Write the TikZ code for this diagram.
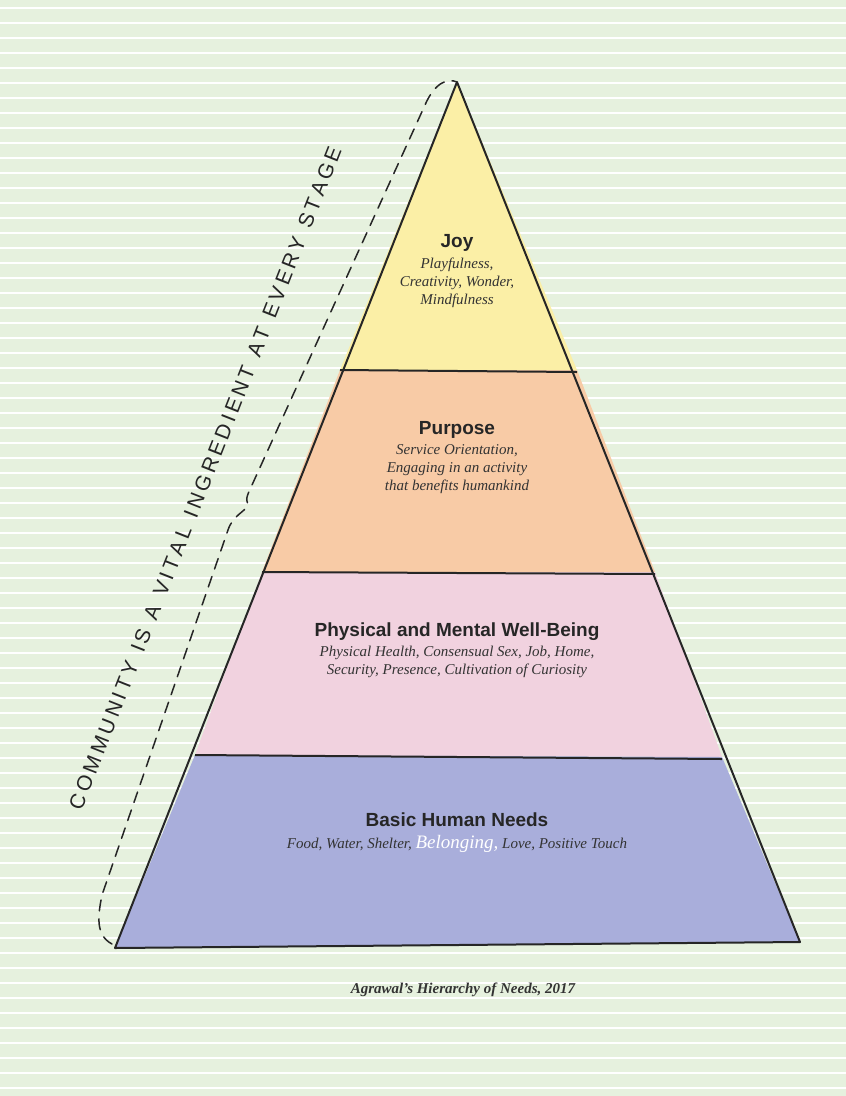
\documentclass[tikz,border=0pt]{standalone}
\usepackage{fontspec}
\setmainfont{Liberation Serif}
\setsansfont{Liberation Sans}
\begin{document}
\begin{tikzpicture}[x=1pt,y=-1pt,
  ttl/.style={font=\sffamily\bfseries\fontsize{19}{22}\selectfont, text=black!85},
  sub/.style={font=\itshape\fontsize{15}{18}\selectfont, align=center, text=black!80},
  edge/.style={draw=black!85, line width=2pt, line join=round}]
\definecolor{bg}{HTML}{E6F1DE}
\definecolor{cjoy}{HTML}{FBEFA6}
\definecolor{cpur}{HTML}{F8CBA6}
\definecolor{cwel}{HTML}{F1D2DF}
\definecolor{cbas}{HTML}{A9AEDB}
\useasboundingbox (0,0) rectangle (846,1096);
\fill[bg] (0,0) rectangle (846,1096);
\foreach \y in {8,23,...,1096} \draw[white, line width=2pt] (0,\y) -- (846,\y);
% layers
\coordinate (A) at (457,82);
\coordinate (BL) at (115,948);
\coordinate (BR) at (800,942);
\fill[cjoy] (A) -- (577,370) -- (340,370) -- cycle;
\fill[cpur] (340,370) -- (577,370) -- (655,572) -- (262,572) -- cycle;
\fill[cwel] (262,572) -- (655,572) -- (722,757) -- (195,755) -- cycle;
\fill[cbas] (195,755) -- (722,757) -- (BR) -- (BL) -- cycle;
\draw[edge] (A) -- (BR) -- (BL) -- cycle;
\draw[edge] (340,370) -- (577,372);
\draw[edge] (262,572) -- (655,574);
\draw[edge] (195,755) -- (722,759);
% texts
\node[ttl] (tj) at (457,243) {Joy};
\node[sub, anchor=north] (sj) at (457,254) {Playfulness,\\Creativity, Wonder,\\Mindfulness};
\node[ttl] (tp) at (457,430) {Purpose};
\node[sub, anchor=north] (sp) at (457,441) {Service Orientation,\\Engaging in an activity\\that benefits humankind};
\node[ttl] (tw) at (457,632) {Physical and Mental Well-Being};
\node[sub, anchor=north] (sw) at (457,643) {Physical Health, Consensual Sex, Job, Home,\\Security, Presence, Cultivation of Curiosity};
\node[ttl] (tb) at (457,820) {Basic Human Needs};
\node[sub, anchor=north] (sb) at (457,832) {Food, Water, Shelter, {\color{white}\fontsize{19}{19}\selectfont Belonging,} Love, Positive Touch};
\node[font=\bfseries\itshape\fontsize{15}{18}\selectfont, text=black!80] (cap) at (463,990) {Agrawal's Hierarchy of Needs, 2017};
% brace
\draw[black!85, line width=1.5pt, dash pattern=on 11pt off 8pt, line cap=round]
  (112,944) .. controls (95,935) and (98,915) .. (102,895)
  -- (228,530) .. controls (233,515) and (245,512) .. (248,505)
  .. controls (246,498) .. (252,485)
  -- (425,105) .. controls (435,82) and (448,78) .. (457,82);
\node[font=\sffamily\fontsize{21}{24}\selectfont, rotate=68.5, text=black!85] (com) at (205,478) {C\,O\,M\,M\,U\,N\,I\,T\,Y\ \ I\,S\ \ A\ \ V\,I\,T\,A\,L\ \ I\,N\,G\,R\,E\,D\,I\,E\,N\,T\ \ A\,T\ \ E\,V\,E\,R\,Y\ \ S\,T\,A\,G\,E};
\end{tikzpicture}
\end{document}
